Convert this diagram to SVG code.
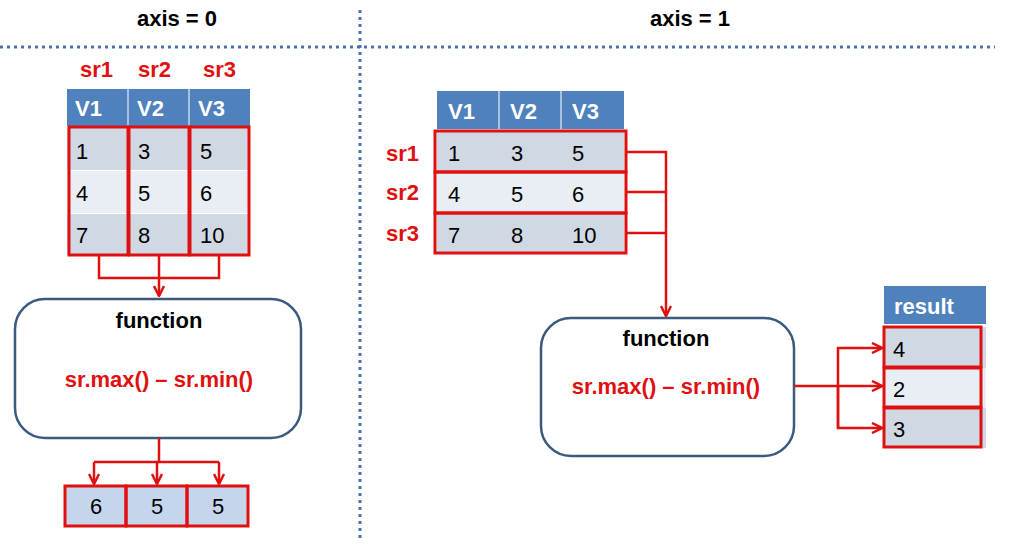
<svg xmlns="http://www.w3.org/2000/svg" width="1009" height="544" viewBox="0 0 1009 544">
<style>
text{font-family:"Malgun Gothic","Liberation Sans","Noto Sans CJK KR",sans-serif}
.t{font-size:22px;font-weight:bold;fill:#000;text-anchor:middle}
.h{fill:#4f81bd}
.ht{font-size:22px;font-weight:bold;fill:#fff}
.c1{fill:#d0d8e4}.c2{fill:#e9edf4}
.v{font-size:22px;fill:#000}
.r{fill:none;stroke:#e01010;stroke-width:3}
.rl{font-size:22px;font-weight:bold;fill:#e01010}
.fn{fill:#fff;stroke:#3b5a80;stroke-width:2.5}
.w{fill:none;stroke:#e01010;stroke-width:2.5}
.dot{stroke:#4a72b0;stroke-width:3;stroke-dasharray:3 4}
</style>
<defs><marker id="a" viewBox="0 0 10 10" refX="9" refY="5" markerWidth="5" markerHeight="5" orient="auto"><path d="M1 1L9 5L1 9" fill="none" stroke="#e01010" stroke-width="2"/></marker></defs>
<line class="dot" x1="0" y1="47" x2="995" y2="47"/>
<line class="dot" x1="360" y1="10" x2="360" y2="540"/>
<text class="t" x="177" y="26">axis = 0</text>
<text class="t" x="690" y="26">axis = 1</text>
<g id="left-table">
<rect class="h" x="67" y="89" width="183" height="37"/>
<line x1="128" y1="89" x2="128" y2="126" stroke="#fff"/><line x1="189" y1="89" x2="189" y2="126" stroke="#fff"/>
<text class="ht" x="75" y="116">V1</text><text class="ht" x="137" y="116">V2</text><text class="ht" x="198" y="116">V3</text>
<rect class="c1" x="67" y="128" width="183" height="42"/><rect class="c2" x="67" y="171" width="183" height="42"/><rect class="c1" x="67" y="214" width="183" height="41"/>
<text class="v" x="76" y="159">1</text><text class="v" x="138" y="159">3</text><text class="v" x="200" y="159">5</text>
<text class="v" x="76" y="201">4</text><text class="v" x="138" y="201">5</text><text class="v" x="200" y="201">6</text>
<text class="v" x="76" y="243">7</text><text class="v" x="138" y="243">8</text><text class="v" x="200" y="243">10</text>
<rect class="r" x="69" y="127" width="59" height="128"/><rect class="r" x="129" y="127" width="60" height="128"/><rect class="r" x="190" y="127" width="59" height="128"/>
<text class="rl" x="80" y="77">sr1</text><text class="rl" x="138" y="77">sr2</text><text class="rl" x="203" y="77">sr3</text>
</g>
<g id="left-function">
<rect class="fn" x="15" y="299" width="286" height="139" rx="30"/>
<text class="t" x="159" y="328">function</text>
<text class="t" x="159" y="387" fill="#e01010" style="fill:#e01010">sr.max() – sr.min()</text>
</g>
<g id="left-result">
<rect x="64" y="486" width="184" height="40" fill="#c5d5ec"/>
<rect class="r" x="65" y="486" width="61" height="40"/><rect class="r" x="126" y="486" width="61" height="40"/><rect class="r" x="187" y="486" width="61" height="40"/>
<text class="v" x="96" y="514" text-anchor="middle">6</text><text class="v" x="157" y="514" text-anchor="middle">5</text><text class="v" x="218" y="514" text-anchor="middle">5</text>
</g>
<g id="right-table">
<rect class="h" x="437" y="91" width="187" height="38"/>
<line x1="499" y1="91" x2="499" y2="129" stroke="#fff"/><line x1="561" y1="91" x2="561" y2="129" stroke="#fff"/>
<text class="ht" x="448" y="119">V1</text><text class="ht" x="510" y="119">V2</text><text class="ht" x="572" y="119">V3</text>
<rect class="c1" x="437" y="131" width="187" height="41"/><rect class="c2" x="437" y="173" width="187" height="40"/><rect class="c1" x="437" y="214" width="187" height="40"/>
<text class="v" x="448" y="161">1</text><text class="v" x="511" y="161">3</text><text class="v" x="572" y="161">5</text>
<text class="v" x="448" y="202">4</text><text class="v" x="511" y="202">5</text><text class="v" x="572" y="202">6</text>
<text class="v" x="448" y="243">7</text><text class="v" x="511" y="243">8</text><text class="v" x="572" y="243">10</text>
<rect class="r" x="435" y="131" width="191" height="41"/><rect class="r" x="435" y="172" width="191" height="41"/><rect class="r" x="435" y="213" width="191" height="40"/>
<text class="rl" x="386" y="161">sr1</text><text class="rl" x="386" y="200">sr2</text><text class="rl" x="386" y="241">sr3</text>
</g>
<g id="right-function">
<rect class="fn" x="541" y="318" width="253" height="138" rx="30"/>
<text class="t" x="666" y="346">function</text>
<text class="t" x="666" y="394" style="fill:#e01010">sr.max() – sr.min()</text>
</g>
<g id="right-result">
<rect class="h" x="884" y="286" width="102" height="38"/>
<text class="ht" x="894" y="314">result</text>
<rect class="c1" x="884" y="327" width="102" height="41"/><rect class="c2" x="884" y="368" width="102" height="40"/><rect class="c1" x="884" y="408" width="102" height="40"/>
<rect class="r" x="884" y="327" width="97" height="40"/><rect class="r" x="884" y="368" width="97" height="39"/><rect class="r" x="884" y="408" width="97" height="39"/>
<text class="v" x="893" y="357">4</text><text class="v" x="893" y="397">2</text><text class="v" x="893" y="437">3</text>
</g>
<g id="connectors">
<path class="w" d="M99 255V278H219V255M159 255V278"/>
<path class="w" d="M159 278V296" marker-end="url(#a)"/>
<path class="w" d="M159 438V462M94 462H219"/>
<path class="w" d="M94 462V484" marker-end="url(#a)"/><path class="w" d="M157 462V484" marker-end="url(#a)"/><path class="w" d="M219 462V484" marker-end="url(#a)"/>
<path class="w" d="M626 152H666V316" marker-end="url(#a)"/>
<path class="w" d="M626 192H666M626 233H666"/>
<path class="w" d="M794 386H882" marker-end="url(#a)"/>
<path class="w" d="M838 428V348H882" marker-end="url(#a)"/>
<path class="w" d="M838 386V428H882" marker-end="url(#a)"/>
</g>
</svg>
